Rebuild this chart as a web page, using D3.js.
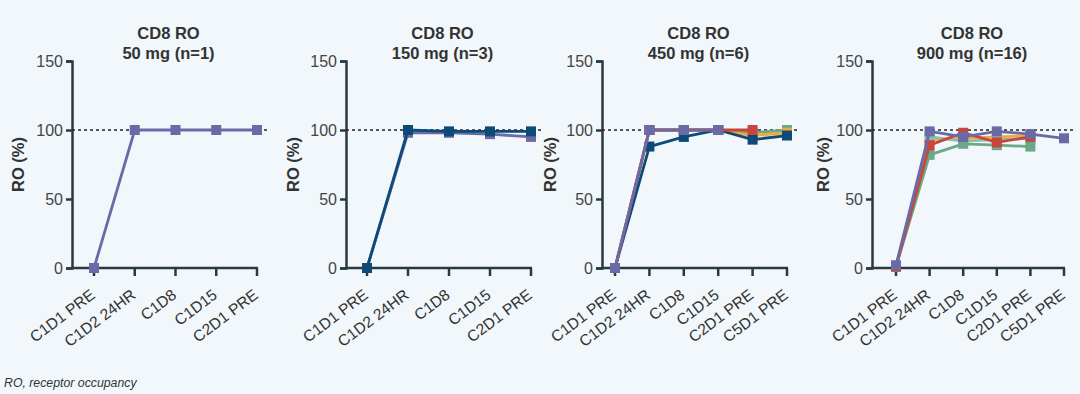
<!DOCTYPE html>
<html><head>
<meta charset="utf-8">
<script src="https://d3js.org/d3.v7.min.js"></script>
<style>
  body { margin: 0; background: #f1f7fb; }
  svg { display: block; font-family: "Liberation Sans", Arial, sans-serif; }
  .title { font-size: 16.5px; font-weight: bold; fill: #333; text-anchor: middle; }
  .ylab { font-size: 16.5px; font-weight: bold; fill: #333; text-anchor: middle; }
  .ytick { font-size: 16px; fill: #444; }
  .xtick { font-size: 15.6px; fill: #333; }
  .note { font-size: 12.3px; font-style: italic; fill: #333; }
</style>
</head>
<body>
<script>
// categories (time points)
var cats5 = ["C1D1 PRE", "C1D2 24HR", "C1D8", "C1D15", "C2D1 PRE"];
var cats6 = ["C1D1 PRE", "C1D2 24HR", "C1D8", "C1D15", "C2D1 PRE", "C5D1 PRE"];
var yTicks = [0, 50, 100, 150];

// panel titles
var titles = ["50 mg (n=1)", "150 mg (n=3)", "450 mg (n=6)", "900 mg (n=16)"];

// RO (%) values, one array per line
var p50_purple  = [0, 100, 100, 100, 100];

var p150_purple = [0, 98, 98, 97, 95];
var p150_navy   = [0, 100, 99, 99, 99];

var p450_green  = [0, 100, 100, 100, 98, 100];
var p450_orange = [0, 100, 100, 100, 96, 98];
var p450_navy   = [0, 88, 95, 100, 93, 96];
var p450_red    = [0, 100, 100, 100, 100];
var p450_purple = [0, 100, 100, 100];

var p900_orange = [1, 93, 94, 95, 96];
var p900_lgreen = [1, 95, 92, 93, 94];
var p900_green  = [1, 82, 90, 89, 88];
var p900_red    = [1, 89, 98, 91, 95];
var p900_purple = [2, 99, 95, 99, 97, 94];

var col = {
  purple: "#6b6aa8", navy: "#0e4a78", red: "#c8463c",
  green: "#6aa888", lgreen: "#8cc0a4", orange: "#f2a93b"
};

var panels = [
  { cats: cats5, ax: 72, x1: 94, x2: 257, lab: 18,
    series: [{ v: p50_purple, c: col.purple }] },
  { cats: cats5, ax: 346, x1: 367, x2: 531, lab: 293,
    series: [{ v: p150_purple, c: col.purple }, { v: p150_navy, c: col.navy }] },
  { cats: cats6, ax: 602, x1: 615, x2: 787, lab: 550,
    series: [{ v: p450_green, c: col.green }, { v: p450_orange, c: col.orange },
             { v: p450_navy, c: col.navy }, { v: p450_red, c: col.red },
             { v: p450_purple, c: col.purple }] },
  { cats: cats6, ax: 872, x1: 896, x2: 1064, lab: 823,
    series: [{ v: p900_orange, c: col.orange }, { v: p900_lgreen, c: col.lgreen },
             { v: p900_green, c: col.green }, { v: p900_red, c: col.red },
             { v: p900_purple, c: col.purple }] }
];

var W = 1080, H = 394;
var svg = d3.select("body").append("svg").attr("width", W).attr("height", H);

var y = d3.scaleLinear().domain([0, 150]).range([268, 61]);
var axisCol = "#2b3a40";

panels.forEach(function(p, i) {
  var x = d3.scalePoint().domain(p.cats).range([p.x1, p.x2]);
  var g = svg.append("g");

  // titles
  var cx = (p.ax + p.x2) / 2 + 4;
  g.append("text").attr("class", "title").attr("x", cx).attr("y", 39).text("CD8 RO");
  g.append("text").attr("class", "title").attr("x", cx).attr("y", 59).text(titles[i]);

  // y label
  g.append("text").attr("class", "ylab")
    .attr("transform", "translate(" + (p.lab + 6) + "," + y(75) + ") rotate(-90)")
    .text("RO (%)");

  // y axis
  var ya = d3.axisLeft(y).tickValues(yTicks).tickSize(6).tickPadding(3);
  var yg = g.append("g").attr("transform", "translate(" + p.ax + ",0)").call(ya);
  yg.attr("font-size", null).attr("font-family", null);
  yg.select(".domain").attr("stroke", axisCol).attr("stroke-width", 2.5);
  yg.selectAll(".tick line").attr("stroke", axisCol).attr("stroke-width", 2.5);
  yg.selectAll(".tick text").attr("class", "ytick").attr("fill", null);

  // x axis
  g.append("line").attr("x1", p.ax - 1).attr("x2", x(p.cats[p.cats.length - 1]) + 1)
    .attr("y1", y(0)).attr("y2", y(0)).attr("stroke", axisCol).attr("stroke-width", 2.5);
  var xt = g.selectAll(".xt").data(p.cats).enter().append("g")
    .attr("transform", function(d) { return "translate(" + x(d) + "," + y(0) + ")"; });
  xt.append("line").attr("y1", 0).attr("y2", 8).attr("stroke", axisCol).attr("stroke-width", 2.5);
  xt.append("text").attr("class", "xtick").attr("text-anchor", "end")
    .attr("transform", "translate(2,29) rotate(-37)")
    .text(function(d) { return d; });

  // reference line at 100 %
  g.append("line").attr("x1", p.ax).attr("x2", x(p.cats[p.cats.length - 1]) + 10)
    .attr("y1", y(100)).attr("y2", y(100))
    .attr("stroke", "#222").attr("stroke-width", 1.6).attr("stroke-dasharray", "3,3");

  // series
  var line = d3.line().x(function(d, j) { return x(p.cats[j]); }).y(function(d) { return y(d); });
  p.series.forEach(function(s) {
    g.append("path").datum(s.v).attr("d", line)
      .attr("fill", "none").attr("stroke", s.c).attr("stroke-width", 2.8);
    g.selectAll(null).data(s.v).enter().append("rect")
      .attr("x", function(d, j) { return x(p.cats[j]) - 5; })
      .attr("y", function(d) { return y(d) - 5; })
      .attr("width", 10).attr("height", 10).attr("fill", s.c);
  });
});

svg.append("text").attr("class", "note").attr("x", 4).attr("y", 387).text("RO, receptor occupancy");
</script>
</body></html>
